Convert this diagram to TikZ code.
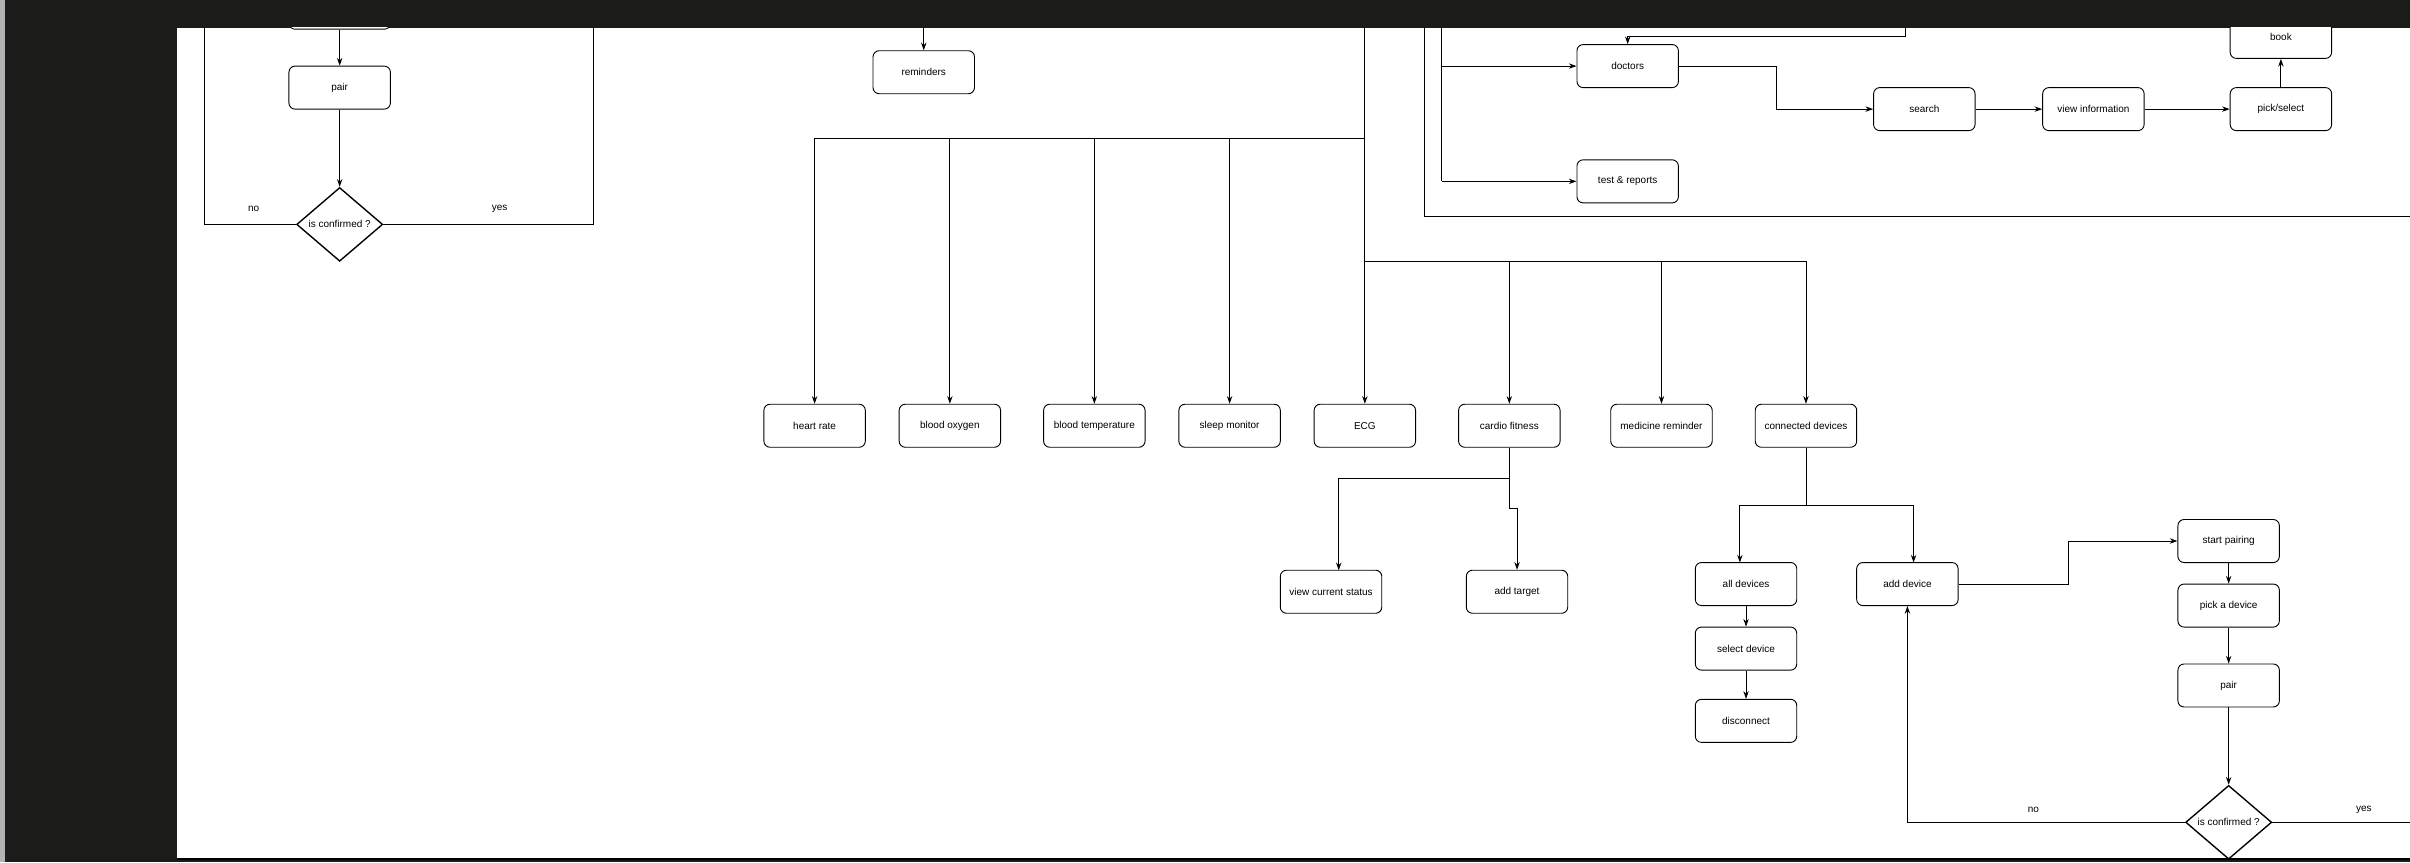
\documentclass[tikz,border=0pt]{standalone}
\usepackage{fontspec}
\setmainfont{Liberation Sans}
\usetikzlibrary{arrows.meta,shapes.geometric}
\definecolor{bgdark}{HTML}{1B1C1A}
\tikzset{
  box/.style={draw, rounded corners=4pt, minimum width=66pt, minimum height=28pt, inner sep=0pt, font=\fontsize{6.5}{7}\selectfont, line width=0.6pt, fill=white},
  dec/.style={draw, diamond, aspect=1.15, minimum width=56pt, minimum height=48pt, inner sep=0pt, font=\fontsize{6.5}{7}\selectfont, line width=0.9pt, fill=white},
  ln/.style={line width=0.6pt},
  ar/.style={line width=0.6pt, -{Stealth[length=5pt,width=3.5pt]}},
  lbl/.style={font=\fontsize{6.5}{7}\selectfont}
}
\begin{document}
\begin{tikzpicture}[x=1pt,y=-1pt]
\useasboundingbox (0,0) rectangle (1568,561);
\fill[bgdark] (0,0) rectangle (1568,561);
\fill[gray!60] (0,0) rectangle (3,561);
\fill[white] (115,18) rectangle (1568,559);
\draw[line width=1.2pt] (115,559) -- (1568,559);
\begin{scope}
\clip (115,18) rectangle (1568,559);
% left fragment
\node[box] (topl) at (221,5) {};
\node[box] (pairL) at (221,57) {pair};
\node[dec] (decL) at (221,146) {is confirmed ?};
\draw[ar] (topl) -- (pairL);
\draw[ar] (pairL) -- (decL);
\draw[ln] (decL.west) -- (133,146) -- (133,10);
\draw[ln] (decL.east) -- (386,146) -- (386,10);
\node[lbl] at (165,136) {no};
\node[lbl] at (325,136) {yes};
% reminders
\coordinate (remT) at (601,10);
\node[box] (rem) at (601,47) {reminders};
\draw[ar] (remT) -- (rem);
% feature row
\node[box] (hr) at (530,277) {heart rate};
\node[box] (bo) at (618,277) {blood oxygen};
\node[box] (bt) at (712,277) {blood temperature};
\node[box] (sm) at (800,277) {sleep monitor};
\node[box] (ecg) at (888,277) {ECG};
\node[box] (cf) at (982,277) {cardio fitness};
\node[box] (mr) at (1081,277) {medicine reminder};
\node[box] (cd) at (1175,277) {connected devices};
\coordinate (trunk) at (888,10);
\draw[ar] (trunk) -- (ecg);
\draw[ln] (888,90) -- (530,90);
\draw[ar] (530,90) -- (hr);
\draw[ar] (618,90) -- (bo);
\draw[ar] (712,90) -- (bt);
\draw[ar] (800,90) -- (sm);
\draw[ln] (888,170) -- (1175,170);
\draw[ar] (982,170) -- (cf);
\draw[ar] (1081,170) -- (mr);
\draw[ar] (1175,170) -- (cd);
% doctors frame
\draw[ln] (927,10) -- (927,141) -- (1570,141);
\node[box] (doc) at (1059,43) {doctors};
\node[box] (tr) at (1059,118) {test \& reports};
\node[box] (sea) at (1252,71) {search};
\node[box] (vi) at (1362,71) {view information};
\node[box] (pick) at (1484,71) {pick/select};
\node[box] (book) at (1484,24) {book};
\draw[ln] (938,10) -- (938,118);
\draw[ar] (938,43) -- (doc);
\draw[ar] (938,118) -- (tr);
\draw[ar] (1240,10) -- (1240,24) -- (1059,24) -- (doc);
\draw[ar] (doc.east) -- (1156,43) -- (1156,71) -- (sea);
\draw[ar] (sea) -- (vi);
\draw[ar] (vi) -- (pick);
\draw[ar] (pick) -- (book);
% cardio fitness children
\node[box] (vcs) at (866,385) {view current status};
\node[box] (at) at (987,385) {add target};
\draw[ar] (cf.south) -- (982,311) -- (871,311) -- (871,371);
\draw[ar] (982,311) -- (982,331) -- (987,331) -- (at);
% connected devices children
\node[box] (ad) at (1136,380) {all devices};
\node[box] (sd) at (1136,422) {select device};
\node[box] (dc) at (1136,469) {disconnect};
\node[box] (add) at (1241,380) {add device};
\draw[ln] (cd.south) -- (1175,329);
\draw[ar] (1175,329) -- (1132,329) -- (1132,366);
\draw[ar] (1175,329) -- (1245,329) -- (1245,366);
\draw[ar] (ad) -- (sd);
\draw[ar] (sd) -- (dc);
\node[box] (sp) at (1450,352) {start pairing};
\node[box] (pd) at (1450,394) {pick a device};
\node[box] (pr) at (1450,446) {pair};
\node[dec] (decR) at (1450,535) {is confirmed ?};
\draw[ar] (add.east) -- (1346,380) -- (1346,352) -- (sp);
\draw[ar] (sp) -- (pd);
\draw[ar] (pd) -- (pr);
\draw[ar] (pr) -- (decR);
\draw[ar] (decR.west) -- (1241,535) -- (add);
\draw[ln] (decR.east) -- (1570,535);
\node[lbl] at (1323,527) {no};
\node[lbl] at (1538,527) {yes};
\end{scope}
\end{tikzpicture}
\end{document}
